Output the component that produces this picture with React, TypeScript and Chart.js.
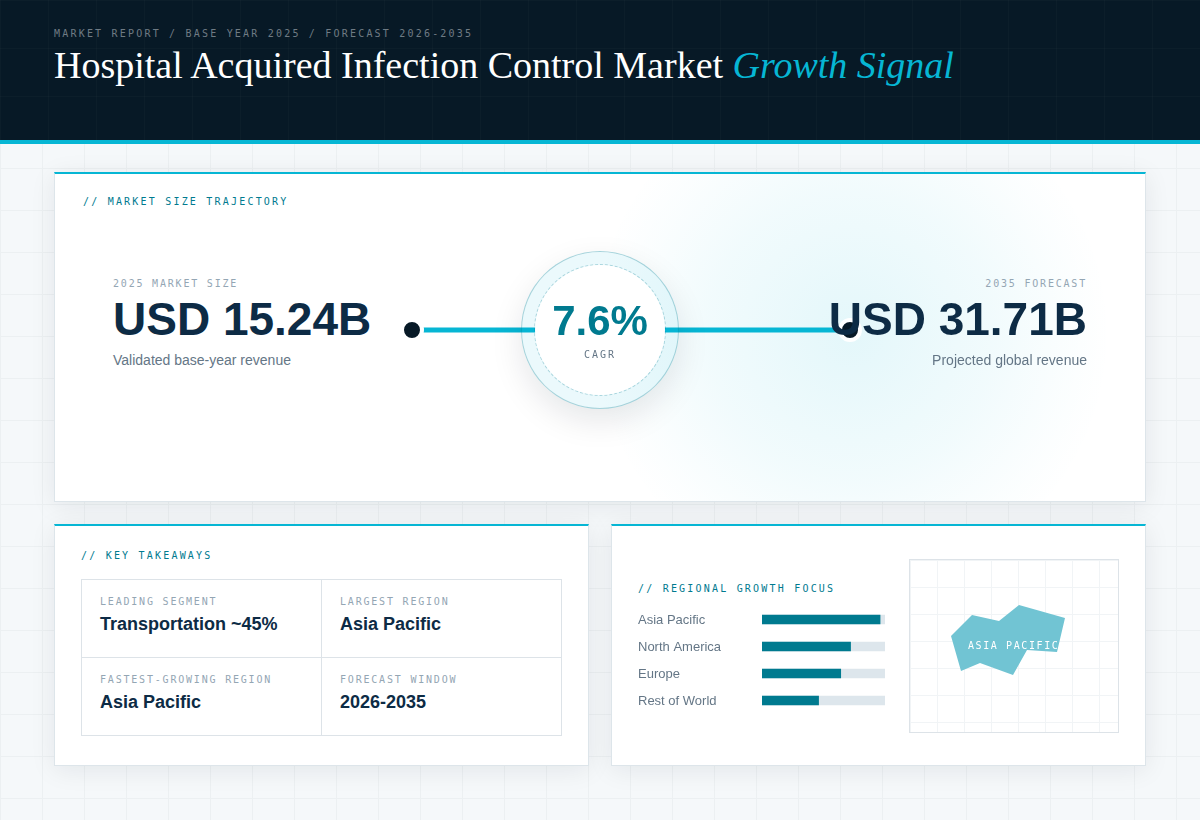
import { useEffect, useRef } from "react";
import Chart from "chart.js/auto";
import type { CSSProperties } from "react";

const regions = ["Asia Pacific", "North America", "Europe", "Rest of World"];
const regionShare = [96, 72, 64, 46];
const regionTrack = [100, 100, 100, 100];

const trajectoryYears = ["2025", "2035"];
const trajectoryLevel = [0, 0];

// outline of the highlighted region, in map grid units
const mapOutlineX = [41, 62, 89, 109, 155, 147, 117, 103, 70, 51, 41];
const mapOutlineY = [76, 55, 61, 45, 58, 92, 90, 115, 103, 111, 76];

const takeawayLabels = ["LEADING SEGMENT", "LARGEST REGION", "FASTEST-GROWING REGION", "FORECAST WINDOW"];
const takeawayValues = ["Transportation ~45%", "Asia Pacific", "Asia Pacific", "2026-2035"];

const CYAN = "#06b6d4";
const TEAL = "#007a8f";
const INK = "#0d2b45";
const NIGHT = "#071926";
const BODY = "#647686";
const MUTED = "#94a6b4";
const SANS = "'Liberation Sans', Arial, sans-serif";
const MONO = "'DejaVu Sans Mono', monospace";

const box = (left: number, top: number, width: number, height: number): CSSProperties => ({
  position: "absolute",
  left,
  top,
  width,
  height,
  boxSizing: "border-box",
});

const mono = (size: number, spacing: number, color: string): CSSProperties => ({
  fontFamily: MONO,
  fontSize: size,
  letterSpacing: spacing,
  color,
  whiteSpace: "nowrap",
});

const text = (left: number, top: number, style: CSSProperties, right?: number): CSSProperties => ({
  position: "absolute",
  top,
  ...(right !== undefined ? { right } : { left }),
  lineHeight: 1,
  whiteSpace: "nowrap",
  ...style,
});

const card: CSSProperties = {
  background: "#fff",
  border: "1px solid #dde5ea",
  borderTop: `2px solid ${CYAN}`,
  boxShadow: "0 4px 24px rgba(6,24,38,0.08)",
};

function TrajectoryLine() {
  const ref = useRef<HTMLCanvasElement>(null);

  useEffect(() => {
    if (!ref.current) return;
    const chart = new Chart(ref.current, {
      type: "line",
      data: {
        labels: trajectoryYears,
        datasets: [
          {
            data: trajectoryLevel,
            borderColor: CYAN,
            borderWidth: 5,
            pointRadius: 10,
            pointBackgroundColor: NIGHT,
            pointBorderColor: "#fff",
            pointBorderWidth: 4,
          },
        ],
      },
      options: {
        animation: false,
        responsive: true,
        maintainAspectRatio: false,
        layout: { padding: { left: 20, right: 20 } },
        plugins: { legend: { display: false }, tooltip: { enabled: false } },
        scales: {
          x: { display: false, offset: false },
          y: { display: false, min: -1, max: 1 },
        },
      },
    });
    return () => chart.destroy();
  }, []);

  return (
    <div style={box(392, 300, 478, 60)}>
      <canvas ref={ref} role="img" aria-label="Market size trajectory from 2025 to 2035" />
    </div>
  );
}

function RegionBars() {
  const ref = useRef<HTMLCanvasElement>(null);

  useEffect(() => {
    if (!ref.current) return;
    const chart = new Chart(ref.current, {
      type: "bar",
      data: {
        labels: regions,
        datasets: [
          { label: "Share", data: regionShare, backgroundColor: TEAL, barThickness: 9, order: 1 },
          { label: "Track", data: regionTrack, backgroundColor: "#dde6ec", barThickness: 9, order: 2 },
        ],
      },
      options: {
        indexAxis: "y",
        animation: false,
        responsive: true,
        maintainAspectRatio: false,
        datasets: { bar: { grouped: false } },
        plugins: { legend: { display: false }, tooltip: { enabled: false } },
        scales: {
          x: { display: false, min: 0, max: 100 },
          y: {
            grid: { display: false },
            border: { display: false },
            afterFit: (scale) => {
              scale.width = 124;
            },
            ticks: {
              crossAlign: "far",
              padding: 0,
              labelOffset: 1,
              color: BODY,
              font: { family: SANS, size: 13, lineHeight: 16 / 13 },
            },
          },
        },
      },
    });
    return () => chart.destroy();
  }, []);

  return (
    <div style={box(638, 598, 247, 124)}>
      <canvas ref={ref} role="img" aria-label="Regional growth focus by region" />
    </div>
  );
}

function RegionMap() {
  const ref = useRef<HTMLCanvasElement>(null);

  useEffect(() => {
    if (!ref.current) return;
    const gridLine = { color: "#f1f4f6", lineWidth: 1, drawTicks: false };
    const chart = new Chart(ref.current, {
      type: "scatter",
      data: {
        datasets: [
          {
            data: mapOutlineX.map((x, i) => ({ x, y: mapOutlineY[i] })),
            showLine: true,
            fill: "shape",
            tension: 0,
            borderWidth: 0,
            pointRadius: 0,
            backgroundColor: "#71c4d3",
          },
        ],
      },
      options: {
        animation: false,
        responsive: true,
        maintainAspectRatio: false,
        plugins: { legend: { display: false }, tooltip: { enabled: false } },
        scales: {
          x: {
            min: 0,
            max: 208,
            grid: gridLine,
            border: { display: false },
            ticks: { display: false, stepSize: 27, includeBounds: false },
          },
          y: {
            min: 0,
            max: 172,
            reverse: true,
            grid: gridLine,
            border: { display: false },
            ticks: { display: false, stepSize: 27, includeBounds: false },
          },
        },
      },
    });
    return () => chart.destroy();
  }, []);

  return (
    <div style={box(910, 560, 208, 172)}>
      <canvas ref={ref} role="img" aria-label="Asia Pacific map highlight" />
    </div>
  );
}

export default function App() {
  useEffect(() => {
    document.body.style.margin = "0";
  }, []);

  return (
    <div
      style={{
        position: "relative",
        width: 1200,
        height: 820,
        overflow: "hidden",
        fontFamily: SANS,
        backgroundColor: "#f5f8fa",
        backgroundImage:
          "linear-gradient(#ecf0f2 1px, transparent 1px), linear-gradient(90deg, #ecf0f2 1px, transparent 1px)",
        backgroundSize: "42px 42px",
      }}
    >
      <div
        style={{
          ...box(0, 0, 1200, 144),
          backgroundColor: NIGHT,
          backgroundImage:
            "linear-gradient(rgba(255,255,255,0.02) 1px, transparent 1px), linear-gradient(90deg, rgba(255,255,255,0.02) 1px, transparent 1px)",
          backgroundSize: "48px 48px",
          borderBottom: `4px solid ${CYAN}`,
        }}
      />
      <div style={text(54, 29, mono(10, 2.2, "#6f7b84"))}>MARKET REPORT / BASE YEAR 2025 / FORECAST 2026-2035</div>
      <div style={text(54, 46, { fontFamily: "'Liberation Serif', serif", fontSize: 38, color: "#fff" })}>
        Hospital Acquired Infection Control Market{" "}
        <span style={{ fontStyle: "italic", color: CYAN }}>Growth Signal</span>
      </div>

      <div style={{ ...box(54, 172, 1092, 330), ...card, overflow: "hidden" }}>
        <div
          style={{
            ...box(536, -100, 520, 520),
            background:
              "radial-gradient(circle closest-side, rgba(6,182,212,0.11) 0%, rgba(6,182,212,0.055) 55%, rgba(6,182,212,0.018) 82%, rgba(6,182,212,0) 100%)",
          }}
        />
      </div>
      <div style={text(83, 197, mono(10, 2.2, TEAL))}>// MARKET SIZE TRAJECTORY</div>

      <TrajectoryLine />

      <div style={text(113, 279, mono(10, 1.8, MUTED))}>2025 MARKET SIZE</div>
      <div style={text(113, 296, { fontSize: 46, fontWeight: 700, color: INK })}>USD 15.24B</div>
      <div style={text(113, 353, { fontSize: 14, color: BODY })}>Validated base-year revenue</div>

      <div style={text(0, 279, mono(10, 1.8, MUTED), 113)}>2035 FORECAST</div>
      <div style={text(0, 296, { fontSize: 46, fontWeight: 700, color: INK }, 113)}>USD 31.71B</div>
      <div style={text(0, 353, { fontSize: 14, color: BODY }, 113)}>Projected global revenue</div>

      <div
        style={{
          ...box(521, 251, 158, 158),
          borderRadius: "50%",
          background: "rgba(6,182,212,0.08)",
          border: "1px solid rgba(0,122,143,0.3)",
          boxShadow: "0 12px 32px rgba(6,24,38,0.1)",
        }}
      />
      <div
        style={{
          ...box(534, 264, 132, 132),
          borderRadius: "50%",
          background: "#fff",
          backgroundClip: "padding-box",
          border: "1px dashed rgba(0,122,143,0.28)",
        }}
      />
      <div style={{ ...text(0, 300, { fontSize: 42, fontWeight: 700, color: TEAL }), left: 534, width: 132, textAlign: "center" }}>7.6%</div>
      <div style={{ ...text(0, 350, mono(10, 2, BODY)), left: 534, width: 132, textAlign: "center" }}>CAGR</div>

      <div style={{ ...box(54, 524, 535, 242), ...card }} />
      <div style={text(81, 551, mono(10, 2.2, TEAL))}>// KEY TAKEAWAYS</div>
      <div
        style={{
          ...box(81, 579, 481, 157),
          border: "1px solid #dde3e8",
          display: "grid",
          gridTemplateColumns: "240px 239px",
          gridTemplateRows: "78px 77px",
        }}
      >
        {takeawayLabels.map((label, i) => (
          <div
            key={label}
            style={{
              position: "relative",
              borderRight: i % 2 === 0 ? "1px solid #dde3e8" : undefined,
              borderBottom: i < 2 ? "1px solid #dde3e8" : undefined,
            }}
          >
            <div style={text(18, 17, mono(10, 1.8, MUTED))}>{label}</div>
            <div style={text(18, 35, { fontSize: 18, fontWeight: 700, color: INK })}>{takeawayValues[i]}</div>
          </div>
        ))}
      </div>

      <div style={{ ...box(611, 524, 535, 242), ...card }} />
      <div style={text(638, 584, mono(10, 2.2, TEAL))}>// REGIONAL GROWTH FOCUS</div>
      <RegionBars />

      <div style={{ ...box(909, 559, 210, 174), border: "1px solid #dde3e8", background: "#fff" }} />
      <RegionMap />
      <div style={text(968, 641, mono(10, 1.6, "#fff"))}>ASIA PACIFIC</div>
    </div>
  );
}
